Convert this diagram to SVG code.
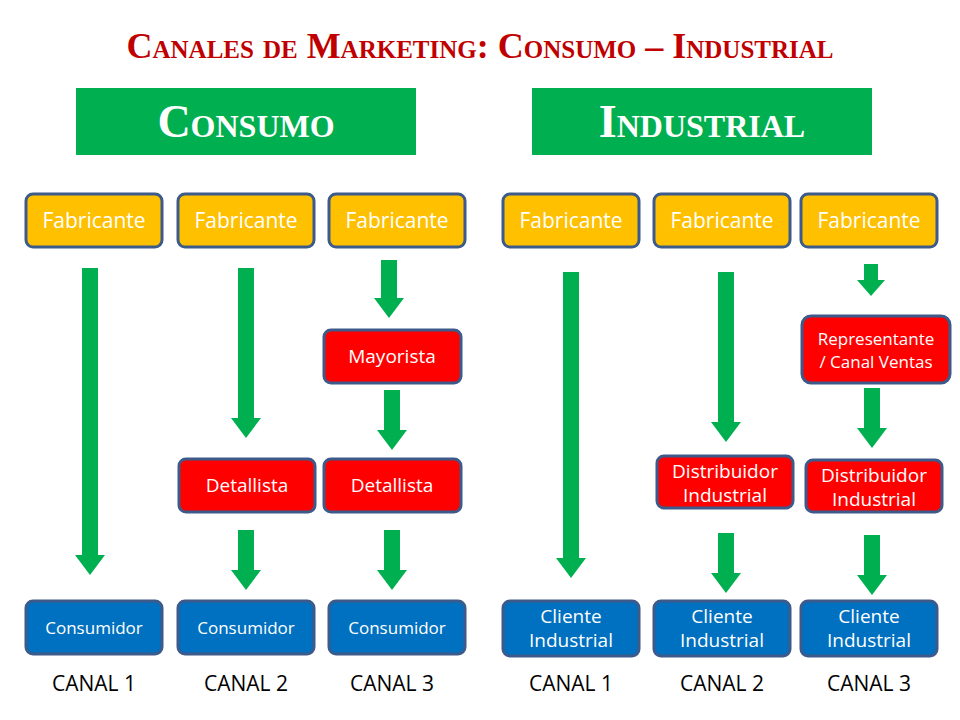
<svg xmlns="http://www.w3.org/2000/svg" width="960" height="720" viewBox="0 0 960 720">
<style>
.n{stroke:#3d5b8a;stroke-width:3}
.o{fill:#ffc000}.r{fill:#ff0000}.b{fill:#0070c0}
.t{font-family:"Open Sans","Liberation Sans",sans-serif;fill:#fff;text-anchor:middle}
.a{fill:#00b050}
.c{font-family:"Open Sans","Liberation Sans",sans-serif;font-size:21px;fill:#000;text-anchor:middle}
.h{font-family:"Liberation Serif",serif;font-weight:bold;font-variant:small-caps;text-anchor:middle}
</style>
<rect width="960" height="720" fill="#fff"/>
<text class="h" x="480" y="58" font-size="36" fill="#c00000">Canales de Marketing: Consumo – Industrial</text>
<g id="hdr-consumo"><rect x="76" y="88" width="340" height="67" fill="#00b050"/><text class="h" x="246" y="137" font-size="46" fill="#fff">Consumo</text></g>
<g id="hdr-industrial"><rect x="532" y="88" width="340" height="67" fill="#00b050"/><text class="h" x="702" y="137" font-size="46" fill="#fff">Industrial</text></g>
<g id="connectors">
<polygon class="a" points="82,268 98,268 98,555 105,555 90,575 75,555 82,555"/>
<polygon class="a" points="238,268 254,268 254,418 261,418 246,438 231,418 238,418"/>
<polygon class="a" points="238,530 254,530 254,570 261,570 246,590 231,570 238,570"/>
<polygon class="a" points="381,260 397,260 397,298 404,298 389,318 374,298 381,298"/>
<polygon class="a" points="384,390 400,390 400,430 407,430 392,450 377,430 384,430"/>
<polygon class="a" points="384,530 400,530 400,570 407,570 392,590 377,570 384,570"/>
<polygon class="a" points="563,272 579,272 579,558 586,558 571,578 556,558 563,558"/>
<polygon class="a" points="718,272 734,272 734,422 741,422 726,442 711,422 718,422"/>
<polygon class="a" points="718,533 734,533 734,573 741,573 726,593 711,573 718,573"/>
<polygon class="a" points="864,264 878,264 878,280 885,280 871,296 857,280 864,280"/>
<polygon class="a" points="864,388 880,388 880,428 887,428 872,448 857,428 864,428"/>
<polygon class="a" points="864,535 880,535 880,575 887,575 872,595 857,575 864,575"/>
</g>
<g id="f1"><rect class="n o" x="26" y="194" width="136" height="53" rx="7"/><text class="t" x="94" y="228" font-size="21">Fabricante</text></g>
<g id="f2"><rect class="n o" x="178" y="194" width="136" height="53" rx="7"/><text class="t" x="246" y="228" font-size="21">Fabricante</text></g>
<g id="f3"><rect class="n o" x="329" y="194" width="136" height="53" rx="7"/><text class="t" x="397" y="228" font-size="21">Fabricante</text></g>
<g id="f4"><rect class="n o" x="503" y="194" width="136" height="53" rx="7"/><text class="t" x="571" y="228" font-size="21">Fabricante</text></g>
<g id="f5"><rect class="n o" x="654" y="194" width="136" height="53" rx="7"/><text class="t" x="722" y="228" font-size="21">Fabricante</text></g>
<g id="f6"><rect class="n o" x="801" y="194" width="136" height="53" rx="7"/><text class="t" x="869" y="228" font-size="21">Fabricante</text></g>
<g id="mayorista"><rect class="n r" x="324" y="330" width="137" height="53" rx="7"/><text class="t" x="392" y="363" font-size="19">Mayorista</text></g>
<g id="det1"><rect class="n r" x="179" y="459" width="136" height="53" rx="7"/><text class="t" x="247" y="492" font-size="19">Detallista</text></g>
<g id="det2"><rect class="n r" x="324" y="459" width="137" height="53" rx="7"/><text class="t" x="392" y="492" font-size="19">Detallista</text></g>
<g id="rep"><rect class="n r" x="802" y="316" width="148" height="67" rx="9"/><text class="t" x="876" y="345" font-size="17">Representante</text><text class="t" x="876" y="368" font-size="17">/ Canal Ventas</text></g>
<g id="dist1"><rect class="n r" x="657" y="456" width="136" height="52" rx="7"/><text class="t" x="725" y="478" font-size="19">Distribuidor</text><text class="t" x="725" y="502" font-size="19">Industrial</text></g>
<g id="dist2"><rect class="n r" x="806" y="460" width="136" height="52" rx="7"/><text class="t" x="874" y="482" font-size="19">Distribuidor</text><text class="t" x="874" y="506" font-size="19">Industrial</text></g>
<g id="cons1"><rect class="n b" x="26" y="601" width="136" height="53" rx="7"/><text class="t" x="94" y="634" font-size="17">Consumidor</text></g>
<g id="cons2"><rect class="n b" x="178" y="601" width="136" height="53" rx="7"/><text class="t" x="246" y="634" font-size="17">Consumidor</text></g>
<g id="cons3"><rect class="n b" x="329" y="601" width="136" height="53" rx="7"/><text class="t" x="397" y="634" font-size="17">Consumidor</text></g>
<g id="cli1"><rect class="n b" x="503" y="601" width="136" height="55" rx="7"/><text class="t" x="571" y="623" font-size="19">Cliente</text><text class="t" x="571" y="647" font-size="19">Industrial</text></g>
<g id="cli2"><rect class="n b" x="654" y="601" width="136" height="55" rx="7"/><text class="t" x="722" y="623" font-size="19">Cliente</text><text class="t" x="722" y="647" font-size="19">Industrial</text></g>
<g id="cli3"><rect class="n b" x="801" y="601" width="136" height="55" rx="7"/><text class="t" x="869" y="623" font-size="19">Cliente</text><text class="t" x="869" y="647" font-size="19">Industrial</text></g>
<text class="c" x="94" y="691">CANAL 1</text>
<text class="c" x="246" y="691">CANAL 2</text>
<text class="c" x="392" y="691">CANAL 3</text>
<text class="c" x="571" y="691">CANAL 1</text>
<text class="c" x="722" y="691">CANAL 2</text>
<text class="c" x="869" y="691">CANAL 3</text>
</svg>
